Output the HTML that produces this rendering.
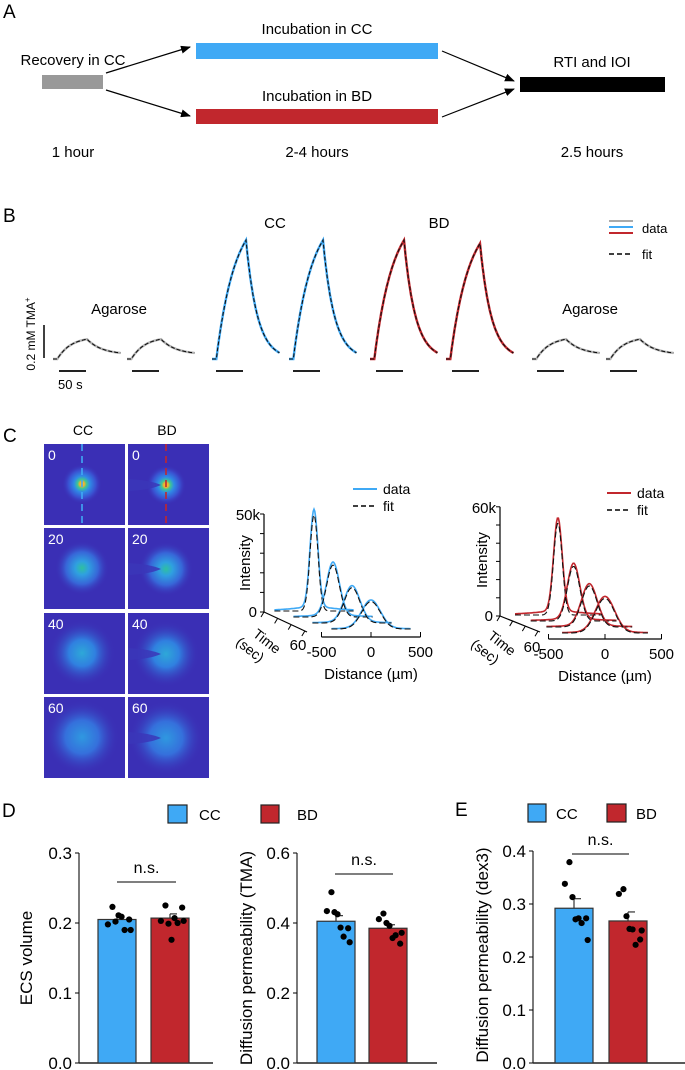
<!DOCTYPE html>
<html><head><meta charset="utf-8">
<style>
html,body{margin:0;padding:0;background:#fff;}
svg{display:block;font-family:"Liberation Sans",Arial,sans-serif;}
</style></head>
<body>
<svg id="fig" width="685" height="1070" viewBox="0 0 685 1070" xmlns="http://www.w3.org/2000/svg">
<defs>
<marker id="arr" markerWidth="10" markerHeight="8" refX="9" refY="4" orient="auto" markerUnits="userSpaceOnUse"><path d="M0,0 L10,4 L0,8 z" fill="#000"/></marker>
<radialGradient id="g0"><stop offset="0" stop-color="#f0d020"/><stop offset="0.12" stop-color="#f0b030"/><stop offset="0.22" stop-color="#40c890"/><stop offset="0.4" stop-color="#2f8ae6"/><stop offset="0.7" stop-color="#3a4fd0"/><stop offset="1" stop-color="#3a2fb5" stop-opacity="0"/></radialGradient>
<radialGradient id="g20"><stop offset="0" stop-color="#2fc0a0"/><stop offset="0.25" stop-color="#2fa0e0"/><stop offset="0.6" stop-color="#3766d8"/><stop offset="1" stop-color="#3a2fb5" stop-opacity="0"/></radialGradient>
<radialGradient id="g40"><stop offset="0" stop-color="#2ea8d8"/><stop offset="0.4" stop-color="#3080e0"/><stop offset="1" stop-color="#3a2fb5" stop-opacity="0"/></radialGradient>
<radialGradient id="g60"><stop offset="0" stop-color="#2f98e0"/><stop offset="0.45" stop-color="#3570dc"/><stop offset="1" stop-color="#3a2fb5" stop-opacity="0"/></radialGradient>
</defs>

<!-- Panel A -->
<g font-size="15">
<text x="3" y="18" font-size="19">A</text>
<text x="73" y="65" text-anchor="middle">Recovery in CC</text>
<rect x="42" y="75" width="61" height="14" fill="#999"/>
<text x="317" y="34" text-anchor="middle">Incubation in CC</text>
<rect x="196" y="43" width="242" height="16" fill="#3fa9f5"/>
<text x="317" y="101" text-anchor="middle">Incubation in BD</text>
<rect x="196" y="109" width="242" height="15" fill="#c1272d"/>
<line x1="106" y1="73" x2="190" y2="47" stroke="#000" stroke-width="1.2" marker-end="url(#arr)"/>
<line x1="106" y1="90" x2="190" y2="116" stroke="#000" stroke-width="1.2" marker-end="url(#arr)"/>
<line x1="442" y1="51" x2="514" y2="81" stroke="#000" stroke-width="1.2" marker-end="url(#arr)"/>
<line x1="442" y1="117" x2="514" y2="89" stroke="#000" stroke-width="1.2" marker-end="url(#arr)"/>
<text x="592" y="67" text-anchor="middle">RTI and IOI</text>
<text x="592" y="88" text-anchor="middle">measurements</text>
<rect x="520" y="77" width="145" height="15" fill="#000"/>
<text x="73" y="157" text-anchor="middle">1 hour</text>
<text x="317" y="157" text-anchor="middle">2-4 hours</text>
<text x="592" y="157" text-anchor="middle">2.5 hours</text>
</g>

<!-- Panel B static -->
<g font-size="15">
<text x="3" y="222" font-size="19">B</text>
<text x="275" y="228" text-anchor="middle">CC</text>
<text x="439" y="228" text-anchor="middle">BD</text>
<text x="119" y="314" text-anchor="middle">Agarose</text>
<text x="590" y="314" text-anchor="middle">Agarose</text>
<line x1="609" y1="221" x2="633" y2="221" stroke="#aaa" stroke-width="2"/>
<line x1="609" y1="227" x2="633" y2="227" stroke="#3fa9f5" stroke-width="2"/>
<line x1="609" y1="233" x2="633" y2="233" stroke="#c1272d" stroke-width="2"/>
<text x="642" y="233" font-size="13">data</text>
<line x1="609" y1="254" x2="633" y2="254" stroke="#000" stroke-width="1.6" stroke-dasharray="5,3"/>
<text x="642" y="259" font-size="13">fit</text>
<line x1="44" y1="325" x2="44" y2="358" stroke="#000" stroke-width="1.5"/>
<text transform="translate(35,334) rotate(-90)" text-anchor="middle" font-size="12">0.2 mM TMA<tspan font-size="8" dy="-5">+</tspan></text>
<text x="58" y="389" font-size="13">50 s</text>
<g id="btraces"></g>
</g>

<!-- Panel C static -->
<g font-size="14">
<text x="3" y="442" font-size="19">C</text>
<text x="83" y="435" text-anchor="middle">CC</text>
<text x="167" y="435" text-anchor="middle">BD</text>
<g id="heatmaps"></g>
<g id="c1"></g>
<g id="c2"></g>
</g>

<!-- Panel D/E -->
<g font-size="15">
<text x="2" y="817" font-size="19">D</text>
<rect x="168" y="805" width="19" height="18" fill="#3fa9f5" stroke="#222" stroke-width="1.2"/>
<text x="199" y="820">CC</text>
<rect x="261" y="805" width="18" height="18" fill="#c1272d" stroke="#222" stroke-width="1.2"/>
<text x="297" y="820">BD</text>
<text x="455" y="816" font-size="19">E</text>
<rect x="528" y="804" width="18" height="18" fill="#3fa9f5" stroke="#222" stroke-width="1.2"/>
<text x="556" y="819">CC</text>
<rect x="607" y="804" width="19" height="18" fill="#c1272d" stroke="#222" stroke-width="1.2"/>
<text x="636" y="819">BD</text>
<g id="bars"></g>
</g>
</svg>

<script>
// ---------- Panel B data ----------
var bTraceStarts = [53,127,212,289,370,446,532,606];
var bAmplitudes = [0.12,0.12,0.72,0.72,0.72,0.70,0.12,0.12]; // mM
var bGroups = ['agarose','agarose','cc','cc','bd','bd','agarose','agarose'];
var bScaleBarStarts = [59,132,216,293,376,452,537,610];

// ---------- Panel C data ----------
var c1Times = [0,20,40,60];
var c1Peaks = [49,26.5,18,14]; // k intensity
var c1Sigmas = [40,65,80,95]; // um
var c1Ticks = [0,10,20,30,40,50];
var c2Times = [0,20,40,60];
var c2Peaks = [50.5,30,22.5,19];
var c2Sigmas = [38,55,70,85];
var c2Ticks = [0,10,20,30,40,50,60];
var distTicks = [-500,0,500];
var heatTimes = [0,20,40,60];

// ---------- Panel D/E data ----------
var groups = ['CC','BD'];
var ecsMeans = [0.205,0.207];
var ecsSem = [0.004,0.006];
var ecsCC = [0.223,0.198,0.202,0.211,0.209,0.205,0.190,0.190];
var ecsBD = [0.225,0.203,0.199,0.176,0.207,0.222,0.200,0.203];
var tmaMeans = [0.405,0.385];
var tmaSem = [0.016,0.010];
var tmaCC = [0.488,0.434,0.431,0.425,0.387,0.385,0.361,0.345];
var tmaBD = [0.427,0.411,0.400,0.392,0.357,0.341,0.365,0.372];
var dexMeans = [0.292,0.268];
var dexSem = [0.018,0.017];
var dexCC = [0.379,0.338,0.313,0.271,0.273,0.273,0.264,0.232];
var dexBD = [0.328,0.319,0.277,0.253,0.252,0.233,0.223,0.250];
var ecsTicks = [0.0,0.1,0.2,0.3];
var tmaTicks = [0.0,0.2,0.4,0.6];
var dexTicks = [0.0,0.1,0.2,0.3,0.4];

var NS='http://www.w3.org/2000/svg';
function mk(tag, attrs, parent){var e=document.createElementNS(NS,tag);for(var k in attrs)e.setAttribute(k,attrs[k]);parent.appendChild(e);return e;}
var COL={cc:'#3fa9f5',bd:'#c1272d',agarose:'#b5b5b5'};

// ---------- Panel B drawing ----------
(function(){
  var g=document.getElementById('btraces');
  var base=359, pxPerMM=33/0.2, pxPerS=27/50;
  for(var i=0;i<bTraceStarts.length;i++){
    var x0=bTraceStarts[i], A=bAmplitudes[i]*pxPerMM, agar=bGroups[i]==='agarose';
    var tau=agar?25:35, R=55, tauD=agar?28:21, D=62, flat=8;
    var pts=[];
    pts.push([x0,base]);pts.push([x0+flat*pxPerS,base]);
    for(var t=0;t<=R;t+=1){var f=(1-Math.exp(-t/tau))/(1-Math.exp(-R/tau));pts.push([x0+(flat+t)*pxPerS,base-A*f]);}
    for(var t=0;t<=D;t+=1){var f=agar?(0.22+0.78*Math.exp(-t/tauD)):Math.exp(-t/tauD);pts.push([x0+(flat+R+t)*pxPerS,base-A*f]);}
    var d='M'+pts.map(function(p){return p[0].toFixed(1)+','+p[1].toFixed(1);}).join('L');
    var dl=mk('path',{d:d,fill:'none',stroke:COL[bGroups[i]],'stroke-width':2.4},g);
    
    
    var fl=mk('path',{d:d,fill:'none',stroke:'#111','stroke-width':1.1,'stroke-dasharray':'4,2'},g);
    
    
    var sb=mk('line',{x1:bScaleBarStarts[i],y1:371,x2:bScaleBarStarts[i]+27,y2:371,stroke:'#222','stroke-width':2},g);
    
    
  }
})();

// ---------- Heatmaps ----------
(function(){
  var g=document.getElementById('heatmaps');
  var cols=[44,128], rows=[444,528,613,697], w=81,h=81;
  var grads=['g0','g20','g40','g60'], rad=[20,27,33,37];
  for(var c=0;c<2;c++)for(var r=0;r<4;r++){
    var x=cols[c],y=rows[r];
    var cell=mk('g',{},g);
    
    
    mk('rect',{x:x,y:y,width:w,height:h,fill:'#3a2fb5'},cell);
    var cx=x+38, cy=y+40+(c?1:0);
    mk('circle',{cx:cx,cy:cy,r:rad[r],fill:'url(#'+grads[r]+')'},cell);
    if(c===1) mk('path',{d:'M'+x+','+(cy-6)+' Q'+(cx-16)+','+(cy-5)+' '+(cx-5)+','+cy+' Q'+(cx-16)+','+(cy+5)+' '+x+','+(cy+6)+'z',fill:'#3b36b8',opacity:0.85},cell);
    var t=mk('text',{x:x+4,y:y+16,fill:'#fff','font-size':14},cell);t.textContent=heatTimes[r];
    if(r===0){mk('line',{x1:x+38,y1:y,x2:x+38,y2:y+h,stroke:c?'#c1272d':'#3fa9f5','stroke-width':1.6,'stroke-dasharray':'7,5'},cell);}
  }
})();

// ---------- Panel C charts ----------
function chart3d(gid, o){
  var g=document.getElementById(gid);
  var yv=function(k){return o.y0-k*o.pxk;};
  var ax=mk('line',{x1:o.ax,y1:o.y0,x2:o.ax,y2:yv(o.ticks[o.ticks.length-1]),stroke:'#000','stroke-width':1.2},g);
  
  
  o.ticks.forEach(function(k){mk('line',{x1:o.ax-4,y1:yv(k),x2:o.ax,y2:yv(k),stroke:'#000','stroke-width':1},g);});
  var tl=mk('text',{x:o.ax-4,y:yv(o.ticks[o.ticks.length-1])+6,'text-anchor':'end','font-size':15},g);tl.textContent=o.ticks[o.ticks.length-1]+'k';
  
  
  var t0=mk('text',{x:o.ax-7,y:o.y0+5,'text-anchor':'end','font-size':15},g);t0.textContent='0';
  var it=mk('text',{transform:'translate('+o.ylx+','+o.yly+') rotate(-90)','text-anchor':'middle','font-size':15},g);it.textContent='Intensity';
  
  
  var n=o.times.length, tx=function(t){return t/20;};
  mk('line',{x1:o.ax,y1:o.y0,x2:o.tax[0],y2:o.tax[1],stroke:'#000','stroke-width':1.2},g);
  for(var i=0;i<n;i++){var f=tx(o.times[i])/3*0.95, px=o.ax+(o.tax[0]-o.ax)*f, py=o.y0+(o.tax[1]-o.y0)*f;mk('line',{x1:px,y1:py,x2:px-3,y2:py+5,stroke:'#000','stroke-width':1},g);}
  var s60=mk('text',{x:o.t60x,y:o.t60y,'font-size':15,'text-anchor':'middle'},g);s60.textContent='60';
  var tt=mk('text',{transform:'translate('+o.ttx+','+o.tty+') rotate(38)','text-anchor':'middle','font-size':14},g);
  
  
  var ts1=mk('tspan',{x:0,dy:0},tt);ts1.textContent='Time';var ts2=mk('tspan',{x:-8,dy:17},tt);ts2.textContent='(sec)';
  var xd=function(d){return o.x0+d*o.pxum;};
  var da=mk('line',{x1:xd(-500),y1:o.xay,x2:xd(500),y2:o.xay,stroke:'#000','stroke-width':1.2},g);
  
  
  distTicks.forEach(function(d){mk('line',{x1:xd(d),y1:o.xay,x2:xd(d),y2:o.xay-5,stroke:'#000','stroke-width':1},g);var l=mk('text',{x:xd(d),y:o.xay+20,'text-anchor':'middle','font-size':15},g);l.textContent=d;});
  var dt=mk('text',{x:xd(0),y:o.xay+42,'text-anchor':'middle','font-size':15},g);dt.textContent='Distance (\u00b5m)';
  
  
  for(var i=0;i<n;i++){
    var k=tx(o.times[i]), offx=-(3-k)*o.dx, by=o.y0+o.dy*k-1;
    var dpts=[],fpts=[];
    for(var d=-o.range;d<=o.range;d+=8){
      var gv=o.peaks[i]*Math.exp(-d*d/(2*o.sig[i]*o.sig[i]));
      var tail=o.peaks[i]*0.06*Math.exp(-Math.abs(d)/250);
      dpts.push([xd(d)+offx,by-(gv+tail)*o.pxk]);
      fpts.push([xd(d)+offx,by-gv*o.pxk]);
    }
    var pd='M'+dpts.map(function(p){return p[0].toFixed(1)+','+p[1].toFixed(1);}).join('L');
    var pf='M'+fpts.map(function(p){return p[0].toFixed(1)+','+p[1].toFixed(1);}).join('L');
    var c1=mk('path',{d:pd,fill:'none',stroke:o.col,'stroke-width':1.6},g);
    
    
    var c2=mk('path',{d:pf,fill:'none',stroke:'#111','stroke-width':1.1,'stroke-dasharray':'6,3'},g);
    
    
  }
  var lg=mk('g',{},g);
  
  
  mk('line',{x1:o.lx,y1:o.ly,x2:o.lx+24,y2:o.ly,stroke:o.col,'stroke-width':2},lg);
  var a=mk('text',{x:o.lx+30,y:o.ly+5,'font-size':14},lg);a.textContent='data';
  mk('line',{x1:o.lx,y1:o.ly+17,x2:o.lx+24,y2:o.ly+17,stroke:'#000','stroke-width':1.5,'stroke-dasharray':'5,3'},lg);
  var b=mk('text',{x:o.lx+30,y:o.ly+22,'font-size':14},lg);b.textContent='fit';
}
chart3d('c1',{ax:264,y0:612,pxk:1.96,ticks:c1Ticks,times:c1Times,peaks:c1Peaks,sig:c1Sigmas,col:'#3fa9f5',dx:19,dy:6,tax:[307,632],
  x0:371,pxum:0.099,xay:637,range:400,ylx:250,yly:563,t60x:298,t60y:650,ttx:264,tty:645,lx:353,ly:489});
chart3d('c2',{ax:500,y0:616,pxk:1.82,ticks:c2Ticks,times:c2Times,peaks:c2Peaks,sig:c2Sigmas,col:'#c1272d',dx:15.7,dy:6,tax:[540,632],
  x0:605,pxum:0.113,xay:639,range:380,ylx:487,yly:560,t60x:532,t60y:652,ttx:499,tty:647,lx:607,ly:493});

// ---------- Bar charts ----------
var jitter=[-0.15,-0.3,-0.05,0.05,0.15,0.4,0.25,0.45];
function barChart(o){
  var g=document.getElementById('bars');
  var cg=mk('g',{},g);
  
  
  var y=function(v){return o.y0-v/o.max*(o.y0-o.ytop);};
  mk('line',{x1:o.ax,y1:o.y0,x2:o.ax,y2:o.ytop,stroke:'#222','stroke-width':1.2},cg);
  mk('line',{x1:o.ax,y1:o.y0,x2:o.xend,y2:o.y0,stroke:'#222','stroke-width':1.5},cg);
  o.ticks.forEach(function(v){mk('line',{x1:o.ax-4,y1:y(v),x2:o.ax,y2:y(v),stroke:'#000','stroke-width':1},cg);var t=mk('text',{x:o.ax-7,y:y(v)+6,'text-anchor':'end','font-size':17},cg);t.textContent=v.toFixed(1);});
  var tt=mk('text',{transform:'translate('+o.tx+','+o.ty+') rotate(-90)','text-anchor':'middle','font-size':17},cg);tt.textContent=o.title;
  
  
  var cols=['#3fa9f5','#c1272d'], pts=[o.cc,o.bd];
  for(var i=0;i<2;i++){
    var bx=o.bx[i], w=38;
    var r=mk('rect',{x:bx,y:y(o.means[i]),width:w,height:o.y0-y(o.means[i]),fill:cols[i],stroke:'#333','stroke-width':1.2},cg);
    
    
    mk('line',{x1:bx+w/2,y1:y(o.means[i]),x2:bx+w/2,y2:y(o.means[i]+o.sem[i]),stroke:'#333','stroke-width':1.2},cg);
    mk('line',{x1:bx+w/2,y1:y(o.means[i]+o.sem[i]),x2:bx+w/2+7,y2:y(o.means[i]+o.sem[i]),stroke:'#333','stroke-width':1.2},cg);
    pts[i].forEach(function(v,j){
      var c=mk('circle',{cx:bx+w/2+jitter[j]*w*0.8,cy:y(v),r:3.1,fill:'#000'},cg);
      
      
    });
  }
  mk('line',{x1:o.ns[0],y1:o.ns[2],x2:o.ns[1],y2:o.ns[2],stroke:'#555','stroke-width':1.5},cg);
  var ns=mk('text',{x:(o.ns[0]+o.ns[1])/2,y:o.ns[2]-9,'text-anchor':'middle','font-size':16},cg);ns.textContent='n.s.';
  
  
}
barChart({name:'ecs-volume-chart',ax:79,y0:1063,ytop:853,max:0.3,xend:213,ticks:ecsTicks,means:ecsMeans,sem:ecsSem,cc:ecsCC,bd:ecsBD,bx:[98,151],title:'ECS volume',tx:32,ty:958,ns:[117,176,882]});
barChart({name:'tma-permeability-chart',ax:297,y0:1063,ytop:853,max:0.6,xend:437,ticks:tmaTicks,means:tmaMeans,sem:tmaSem,cc:tmaCC,bd:tmaBD,bx:[317,369],title:'Diffusion permeability (TMA)',tx:252,ty:958,ns:[335,393,874]});
barChart({name:'dex3-permeability-chart',ax:533,y0:1063,ytop:851,max:0.4,xend:685,ticks:dexTicks,means:dexMeans,sem:dexSem,cc:dexCC,bd:dexBD,bx:[555,609],title:'Diffusion permeability (dex3)',tx:488,ty:955,ns:[572,629,854]});
</script>
</body></html>
